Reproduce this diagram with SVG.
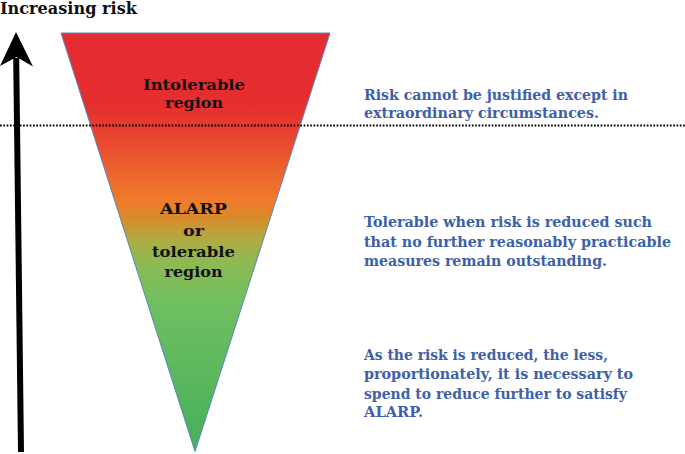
<svg xmlns="http://www.w3.org/2000/svg" width="685" height="454" viewBox="0 0 685 454">
<defs>
<linearGradient id="riskGrad" x1="0" y1="33" x2="0" y2="452" gradientUnits="userSpaceOnUse">
<stop offset="0" stop-color="#e52c30"/>
<stop offset="0.17" stop-color="#e52e30"/>
<stop offset="0.23" stop-color="#e63e2f"/>
<stop offset="0.31" stop-color="#eb5c2e"/>
<stop offset="0.40" stop-color="#f07b2a"/>
<stop offset="0.44" stop-color="#d98b2b"/>
<stop offset="0.50" stop-color="#aaae45"/>
<stop offset="0.56" stop-color="#88bb56"/>
<stop offset="0.65" stop-color="#6fbf60"/>
<stop offset="1" stop-color="#45b05a"/>
</linearGradient>
<style>
.lbl{font-family:"DejaVu Serif","Liberation Serif",serif;font-weight:bold;font-size:15px;fill:#111;text-anchor:middle}
.note{font-family:"DejaVu Serif","Liberation Serif",serif;font-weight:bold;font-size:14px;fill:#3d61a9}
.title{font-family:"DejaVu Serif","Liberation Serif",serif;font-weight:bold;font-size:16.5px;fill:#111}
</style>
</defs>
<rect width="685" height="454" fill="#ffffff"/>
<g id="title">
<text class="title" x="0" y="13.5" textLength="137" lengthAdjust="spacingAndGlyphs">Increasing risk</text>
</g>
<g id="triangle">
<polygon points="61,33 330,33 195,451.5" fill="url(#riskGrad)" stroke="#5a86bd" stroke-width="1"/>
<text class="lbl" x="194" y="90" textLength="102" lengthAdjust="spacingAndGlyphs">Intolerable</text>
<text class="lbl" x="194" y="108" textLength="58" lengthAdjust="spacingAndGlyphs">region</text>
<text class="lbl" x="193.5" y="214" textLength="67" lengthAdjust="spacingAndGlyphs">ALARP</text>
<text class="lbl" x="193.5" y="236" textLength="21" lengthAdjust="spacingAndGlyphs">or</text>
<text class="lbl" x="193.5" y="256.5" textLength="83" lengthAdjust="spacingAndGlyphs">tolerable</text>
<text class="lbl" x="193.5" y="277" textLength="58" lengthAdjust="spacingAndGlyphs">region</text>
</g>
<g id="connectors">
<polygon points="18,452 24,452 19.2,58 13.2,58" fill="#000"/>
<polygon points="16,32 33,66.5 16.5,57 0,66" fill="#000"/>
<line x1="0" y1="125.5" x2="685" y2="125.5" stroke="#000" stroke-width="2" stroke-dasharray="1.7 1.6"/>
</g>
<g id="note-intolerable">
<text class="note" x="364" y="99.5" textLength="264" lengthAdjust="spacingAndGlyphs">Risk cannot be justified except in</text>
<text class="note" x="364" y="117.5" textLength="235" lengthAdjust="spacingAndGlyphs">extraordinary circumstances.</text>
</g>
<g id="note-tolerable">
<text class="note" x="364" y="227" textLength="288" lengthAdjust="spacingAndGlyphs">Tolerable when risk is reduced such</text>
<text class="note" x="364" y="246.5" textLength="307" lengthAdjust="spacingAndGlyphs">that no further reasonably practicable</text>
<text class="note" x="364" y="265.5" textLength="243" lengthAdjust="spacingAndGlyphs">measures remain outstanding.</text>
</g>
<g id="note-alarp">
<text class="note" x="364" y="360" textLength="244" lengthAdjust="spacingAndGlyphs">As the risk is reduced, the less,</text>
<text class="note" x="364" y="379" textLength="269" lengthAdjust="spacingAndGlyphs">proportionately, it is necessary to</text>
<text class="note" x="364" y="398.5" textLength="263" lengthAdjust="spacingAndGlyphs">spend to reduce further to satisfy</text>
<text class="note" x="364" y="417" textLength="59" lengthAdjust="spacingAndGlyphs">ALARP.</text>
</g>
</svg>
